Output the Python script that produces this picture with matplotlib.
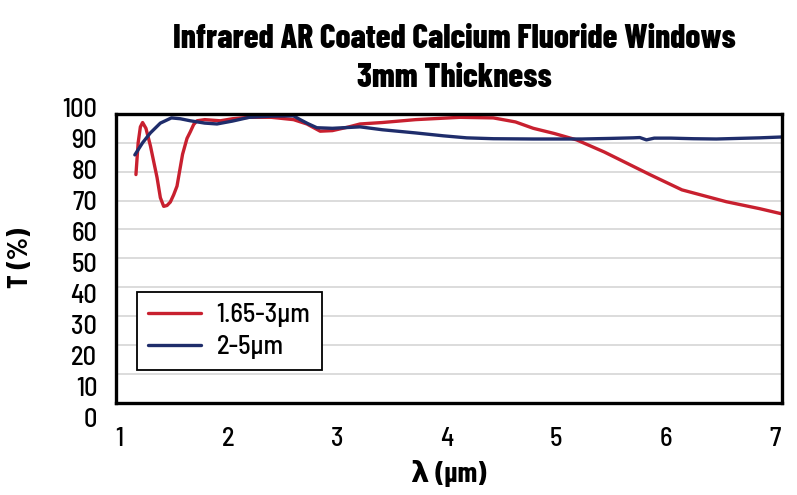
import matplotlib
matplotlib.use('Agg')
import matplotlib.pyplot as plt
from matplotlib.transforms import blended_transform_factory

plt.rcParams['font.family'] = ['Barlow Condensed', 'DejaVu Sans']
fuente_num = ['Barlow Semi Condensed', 'Barlow Condensed', 'DejaVu Sans']

# 1.65-3um AR coating
rojo_x = [1.18, 1.20, 1.22, 1.24, 1.27, 1.31, 1.34, 1.37, 1.40, 1.43, 1.46, 1.49, 1.52, 1.55,
          1.60, 1.64, 1.67, 1.70, 1.73, 1.80, 1.94, 2.05, 2.20, 2.40, 2.60, 2.72, 2.84, 2.95,
          3.10, 3.20, 3.40, 3.70, 4.10, 4.40, 4.60, 4.76, 4.95, 5.15, 5.40, 5.60, 5.81, 6.10,
          6.50, 6.80, 7.00]
rojo_y = [79, 90, 95.5, 97, 95, 89, 83.5, 78, 71, 68, 68.3, 69.5, 72, 75,
          86, 91.5, 93.8, 96.3, 97.6, 98, 97.6, 98.3, 98.8, 98.8, 98, 96.5, 94, 94.2,
          95.5, 96.5, 97, 98, 98.8, 98.6, 97.2, 95, 93.2, 91, 86.8, 83, 79, 73.7,
          69.6, 67.2, 65.4]

# 2-5um AR coating
azul_x = [1.17, 1.24, 1.31, 1.40, 1.50, 1.58, 1.67, 1.80, 1.91, 2.05, 2.20, 2.40, 2.60, 2.66,
          2.73, 2.81, 2.95, 3.05, 3.20, 3.40, 3.70, 3.95, 4.16, 4.40, 4.76, 5.00, 5.20, 5.45,
          5.66, 5.72, 5.78, 5.85, 6.00, 6.20, 6.41, 6.60, 6.80, 7.00]
azul_y = [85.8, 90, 93.4, 96.8, 98.6, 98.3, 97.6, 96.8, 96.5, 97.5, 98.8, 99.2, 99.3, 98,
          96.6, 95.2, 95, 95.2, 95.5, 94.5, 93.4, 92.4, 91.7, 91.4, 91.3, 91.3, 91.3, 91.5,
          91.7, 91.8, 91, 91.6, 91.6, 91.4, 91.3, 91.5, 91.7, 92]

x_ticks = [1, 2, 3, 4, 5, 6, 7]
y_ticks = [0, 10, 20, 30, 40, 50, 60, 70, 80, 90, 100]

rojo = '#c8202f'
azul = '#1f2d6b'

fig = plt.figure(figsize=(7.97, 4.95), dpi=100)
ax = fig.add_axes([0.1455, 0.186, 0.8355, 0.584])

# lineas de cuadricula
for v in y_ticks[1:-1]:
    ax.axhline(v, color='#d9d9d9', lw=1.3, zorder=0)

ax.plot(rojo_x, rojo_y, color=rojo, lw=2.4, label='1.65-3µm', solid_capstyle='round')
ax.plot(azul_x, azul_y, color=azul, lw=2.4, label='2-5µm', solid_capstyle='round')

# las etiquetas del original no coinciden del todo con la cuadricula (estilo Excel)
ax.set_yticks([])
trans = blended_transform_factory(ax.transAxes, ax.transData)
for v in y_ticks:
    ax.text(-0.028, -5.9 + v * 1.073, str(v), transform=trans, ha='right', va='center',
            fontsize=19, fontweight='medium', family=fuente_num, clip_on=False)
ax.set_xticks([1.027 + (v - 1) * 0.985 for v in x_ticks], [str(v) for v in x_ticks])
ax.tick_params(length=0)
ax.tick_params(axis='x', pad=17, labelsize=19)
for t in ax.get_xticklabels():
    t.set_fontweight('medium')
    t.set_family(fuente_num)
ax.set_xlim(1, 7)
ax.set_ylim(0, 100)
for s in ax.spines.values():
    s.set_linewidth(2.4)
    s.set_color('black')

ax.set_xlabel('λ (µm)', fontsize=21, fontweight='bold', labelpad=7)
ax.set_ylabel('T (%)', fontsize=21, fontweight='bold', labelpad=60)
fig.text(0.57, 0.922, 'Infrared AR Coated Calcium Fluoride Windows', ha='center', va='center',
         fontsize=24, fontweight='heavy')
fig.text(0.57, 0.842, '3mm Thickness', ha='center', va='center', fontsize=24, fontweight='heavy')

leg = ax.legend(loc='lower left', bbox_to_anchor=(0.0315, 0.114), borderaxespad=0,
                prop={'family': fuente_num, 'size': 19, 'weight': 'medium'}, frameon=True,
                fancybox=False, edgecolor='black', handlelength=2.0, handletextpad=0.6,
                borderpad=0.42, labelspacing=0.3, framealpha=1)
leg.get_frame().set_linewidth(1.3)

fig.savefig('out.png', dpi=100)
